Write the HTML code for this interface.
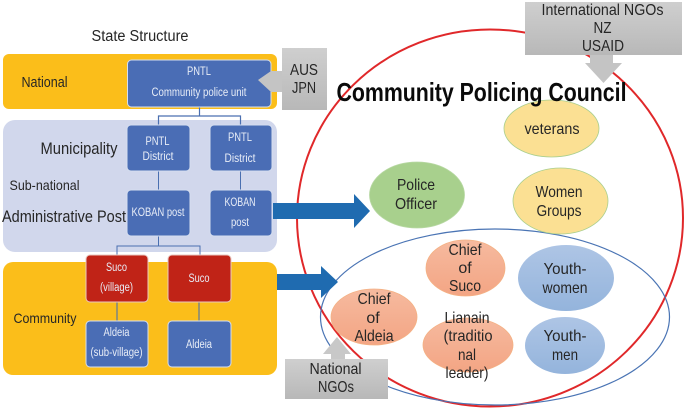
<!DOCTYPE html>
<html><head><meta charset="utf-8"><style>
html,body{margin:0;padding:0;background:#fff;width:685px;height:410px;overflow:hidden}
svg{display:block}
text{font-family:"Liberation Sans",sans-serif;text-anchor:middle}
.w{fill:#e8edf7;font-size:11.500px}
.k{fill:#262626;font-size:16px}
.box{fill:#4a6db5;stroke:#d5deef;stroke-width:1}
.red{fill:#c02317;stroke:#e8c8c0;stroke-width:1}
</style></head><body>
<svg width="685" height="410" viewBox="0 0 685 410" xmlns="http://www.w3.org/2000/svg">
<defs>
<linearGradient id="g" x1="0" y1="0" x2="0" y2="1"><stop offset="0" stop-color="#cfcfcf"/><stop offset="1" stop-color="#b8b8b8"/></linearGradient>
<linearGradient id="o" x1="0" y1="0" x2="0" y2="1"><stop offset="0" stop-color="#f6ba9f"/><stop offset="1" stop-color="#f3a584"/></linearGradient>
<linearGradient id="b" x1="0" y1="0" x2="0" y2="1"><stop offset="0" stop-color="#aec5e5"/><stop offset="1" stop-color="#94b4dc"/></linearGradient>
</defs>
<rect x="3" y="54" width="274" height="55" rx="6" fill="#fbbe1a"/>
<rect x="3" y="120" width="274" height="132" rx="12" fill="#d1d7ec"/>
<rect x="3" y="262" width="274" height="113" rx="10" fill="#fbbe1a"/>

<g fill="none" stroke="#4a6fb0" stroke-width="1">
<path d="M199.500 107V116M158.500 125V116H240.500V125" stroke-width="1.200"/>
<path d="M158.500 171V190M240.500 171V190M158.500 236V246M117 255V246H200V255"/>
</g>
<g stroke="#9c9468" stroke-width="2"><path d="M117 302V321M199 302V321"/></g>

<rect class="box" x="127.500" y="60" width="143.500" height="47" rx="4"/>
<rect class="box" x="127" y="125" width="63" height="46" rx="4"/>
<rect class="box" x="210" y="125" width="62" height="46" rx="4"/>
<rect class="box" x="127" y="190" width="63" height="46" rx="4"/>
<rect class="box" x="210" y="190" width="62" height="46" rx="4"/>
<rect class="red" x="86" y="255" width="62" height="47" rx="4"/>
<rect class="red" x="168" y="255" width="63" height="47" rx="4"/>
<rect class="box" x="86" y="321" width="62" height="46" rx="4"/>
<rect class="box" x="168" y="321" width="63" height="46" rx="4"/>

<text class="w" x="199" y="75" textLength="24" lengthAdjust="spacingAndGlyphs">PNTL</text>
<text class="w" x="199" y="96" textLength="95" lengthAdjust="spacingAndGlyphs">Community police unit</text>
<text class="w" x="157.500" y="145" textLength="24" lengthAdjust="spacingAndGlyphs">PNTL</text>
<text class="w" x="158" y="160" textLength="31" lengthAdjust="spacingAndGlyphs">District</text>
<text class="w" x="240" y="141" textLength="24" lengthAdjust="spacingAndGlyphs">PNTL</text>
<text class="w" x="240" y="162" textLength="31" lengthAdjust="spacingAndGlyphs">District</text>
<text class="w" x="158" y="216" textLength="53" lengthAdjust="spacingAndGlyphs">KOBAN post</text>
<text class="w" x="240" y="206" textLength="31" lengthAdjust="spacingAndGlyphs">KOBAN</text>
<text class="w" x="240" y="226" textLength="18" lengthAdjust="spacingAndGlyphs">post</text>
<text class="w" x="116.500" y="271" textLength="21" lengthAdjust="spacingAndGlyphs">Suco</text>
<text class="w" x="116.500" y="291" textLength="33" lengthAdjust="spacingAndGlyphs">(village)</text>
<text class="w" x="199" y="282" textLength="21" lengthAdjust="spacingAndGlyphs">Suco</text>
<text class="w" x="116.500" y="336" textLength="26" lengthAdjust="spacingAndGlyphs">Aldeia</text>
<text class="w" x="116.500" y="356" textLength="52" lengthAdjust="spacingAndGlyphs">(sub-village)</text>
<text class="w" x="199" y="348" textLength="26" lengthAdjust="spacingAndGlyphs">Aldeia</text>

<text x="140" y="41" style="font-size:15.500px" fill="#262626" textLength="97" lengthAdjust="spacingAndGlyphs">State Structure</text>
<text x="44.500" y="87" style="font-size:15px" fill="#262626" textLength="46" lengthAdjust="spacingAndGlyphs">National</text>
<text x="79" y="154" style="font-size:17px" fill="#262626" textLength="77" lengthAdjust="spacingAndGlyphs">Municipality</text>
<text x="44.500" y="190" style="font-size:14px" fill="#262626" textLength="70" lengthAdjust="spacingAndGlyphs">Sub-national</text>
<text x="64" y="222" style="font-size:17px" fill="#262626" textLength="124" lengthAdjust="spacingAndGlyphs">Administrative Post</text>
<text x="45" y="323" style="font-size:14px" fill="#262626" textLength="63" lengthAdjust="spacingAndGlyphs">Community</text>

<ellipse cx="490" cy="218" rx="193" ry="188.500" fill="none" stroke="#e0282a" stroke-width="2"/>
<ellipse cx="495" cy="317" rx="174.500" ry="88" fill="none" stroke="#4a74b4" stroke-width="1.200"/>

<path d="M273 203H354V194L370 211L354 228V219H273Z" fill="#1f6bb0"/>
<path d="M277 274H321V266L338 282L321 298V290H277Z" fill="#1f6bb0"/>

<ellipse cx="417" cy="195" rx="47.500" ry="33" fill="#a8d08d" stroke="#b8d8a4" stroke-width=".8"/>
<ellipse cx="551.500" cy="128.500" rx="47.500" ry="28.500" fill="#fbe093" stroke="#a9cf8e" stroke-width=".8"/>
<ellipse cx="560.500" cy="201" rx="47.500" ry="33" fill="#fbe093" stroke="#a9cf8e" stroke-width=".8"/>
<ellipse cx="465.500" cy="268" rx="39.500" ry="28" fill="url(#o)" stroke="#f4b183" stroke-width=".8"/>
<ellipse cx="566" cy="278" rx="48" ry="33" fill="url(#b)"/>
<ellipse cx="374" cy="317" rx="43" ry="28" fill="url(#o)" stroke="#f4b183" stroke-width=".8"/>
<ellipse cx="468" cy="345" rx="45" ry="27" fill="url(#o)" stroke="#f4b183" stroke-width=".8"/>
<ellipse cx="565" cy="345.500" rx="40" ry="28.500" fill="url(#b)"/>

<path d="M282 71H271L258 80L271 92H282Z" fill="#c4c4c4"/>
<rect x="282" y="48" width="45" height="62" fill="url(#g)"/>
<path d="M590 55V63H585L603.500 83L622 63H613V55Z" fill="#c4c4c4"/>
<rect x="525" y="2" width="157" height="53" fill="url(#g)"/>
<path d="M331 359V354H323L337 337L351 354H345V359Z" fill="#c8c8c8"/>
<rect x="285" y="359" width="103" height="40" fill="url(#g)"/>

<text class="k" x="304" y="75" textLength="28" lengthAdjust="spacingAndGlyphs">AUS</text>
<text class="k" x="304" y="93" textLength="24" lengthAdjust="spacingAndGlyphs">JPN</text>
<text class="k" x="602.500" y="15" textLength="122" lengthAdjust="spacingAndGlyphs">International NGOs</text>
<text class="k" x="602.500" y="33" textLength="18" lengthAdjust="spacingAndGlyphs">NZ</text>
<text class="k" x="603" y="51" textLength="42" lengthAdjust="spacingAndGlyphs">USAID</text>
<text class="k" x="335.500" y="374" textLength="52" lengthAdjust="spacingAndGlyphs">National</text>
<text class="k" x="336" y="392" textLength="36" lengthAdjust="spacingAndGlyphs">NGOs</text>

<text x="481.500" y="101" style="font-size:26px;font-weight:bold" fill="#0a0a0a" textLength="290" lengthAdjust="spacingAndGlyphs">Community Policing Council</text>

<text class="k" x="552" y="134" textLength="55" lengthAdjust="spacingAndGlyphs">veterans</text>
<text class="k" x="416" y="190" textLength="38" lengthAdjust="spacingAndGlyphs">Police</text>
<text class="k" x="416" y="209" textLength="42" lengthAdjust="spacingAndGlyphs">Officer</text>
<text class="k" x="559" y="197" textLength="47" lengthAdjust="spacingAndGlyphs">Women</text>
<text class="k" x="559" y="216" textLength="45" lengthAdjust="spacingAndGlyphs">Groups</text>
<text class="k" x="465" y="255" textLength="33" lengthAdjust="spacingAndGlyphs">Chief</text>
<text class="k" x="465" y="273">of</text>
<text class="k" x="465" y="291" textLength="32" lengthAdjust="spacingAndGlyphs">Suco</text>
<text class="k" x="565" y="274" textLength="43" lengthAdjust="spacingAndGlyphs">Youth-</text>
<text class="k" x="565" y="293" textLength="45" lengthAdjust="spacingAndGlyphs">women</text>
<text class="k" x="374" y="304" textLength="33" lengthAdjust="spacingAndGlyphs">Chief</text>
<text class="k" x="373" y="323">of</text>
<text class="k" x="374" y="341" textLength="39" lengthAdjust="spacingAndGlyphs">Aldeia</text>
<text class="k" x="467" y="323" textLength="45" lengthAdjust="spacingAndGlyphs">Lianain</text>
<text class="k" x="468" y="341" textLength="49" lengthAdjust="spacingAndGlyphs">(traditio</text>
<text class="k" x="467" y="360" textLength="18" lengthAdjust="spacingAndGlyphs">nal</text>
<text class="k" x="467" y="378" textLength="43" lengthAdjust="spacingAndGlyphs">leader)</text>
<text class="k" x="565" y="341" textLength="43" lengthAdjust="spacingAndGlyphs">Youth-</text>
<text class="k" x="565" y="360" textLength="26" lengthAdjust="spacingAndGlyphs">men</text>
</svg>
</body></html>
